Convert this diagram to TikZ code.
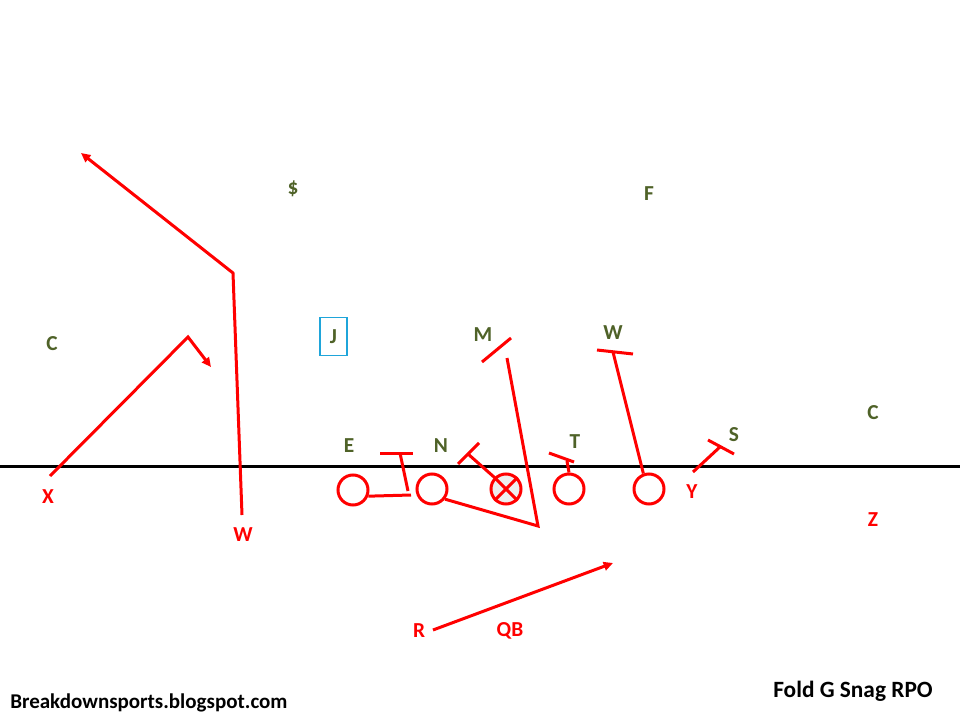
\documentclass[tikz,border=0pt]{standalone}
\usepackage{fontspec}
\setmainfont{Carlito}
\usetikzlibrary{arrows.meta}
\definecolor{rte}{HTML}{FF0000}
\definecolor{olv}{HTML}{4F6228}
\definecolor{cyb}{HTML}{1FA5DA}
\definecolor{cgray}{HTML}{EEEEEE}
\tikzset{
  lbl/.style={font=\fontsize{16}{18}\selectfont\bfseries, inner sep=0pt},
  deflbl/.style={lbl, text=olv},
  offlbl/.style={lbl, text=rte},
  lineman/.style={circle, draw=rte, line width=2.25pt, minimum size=22.5pt, inner sep=0pt},
  rt/.style={draw=rte, line width=2.25pt},
  rtarrow/.style={rt, -{Triangle[length=7pt,width=6.5pt]}},
}
\begin{document}
\begin{tikzpicture}[x=0.75pt,y=-0.75pt]
\useasboundingbox (0,0) rectangle (960,720);
\fill[white] (0,0) rectangle (960,720);
% line of scrimmage
\coordinate (losL) at (0,466);
\coordinate (losR) at (960,466);
\draw[line width=2.25pt] (losL) -- (losR);
% offensive line
\node[lineman] (c1) at (353,490) {};
\node[lineman] (c2) at (432,489) {};
\node[lineman, fill=cgray] (c3) at (506,489) {};
\node[lineman] (c4) at (569,489) {};
\node[lineman] (c5) at (649,489) {};
\draw[rt] (c3.45) -- (c3.225);
\draw[rt] (c3.135) -- (c3.-45);
% defender labels
\node[deflbl] (dE) at (349,446) {E};
\node[deflbl] (dN) at (441,446) {N};
\node[deflbl] (dT) at (575,442) {T};
\node[deflbl] (dW) at (613,333) {W};
\node[deflbl] (dS) at (734,435) {S};
\node[deflbl] (dM) at (483,335) {M};
\node[deflbl] (dD) at (293,189) {\$};
\node[deflbl] (dF) at (649,194) {F};
\node[deflbl] (dC1) at (52,344) {C};
\node[deflbl] (dC2) at (873,413) {C};
\node[deflbl, draw=cyb, line width=1.2pt, minimum width=20pt, minimum height=28.5pt] (dJ) at (333.5,336.5) {J};
% offensive labels
\node[offlbl] (oX) at (48,497) {X};
\node[offlbl] (oW) at (243,535) {W};
\node[offlbl] (oY) at (692,492) {Y};
\node[offlbl] (oZ) at (873,520) {Z};
\node[offlbl] (oR) at (419,631) {R};
\node[offlbl] (oQB) at (510,631) {QB};
% bottom texts
\node[lbl, font=\fontsize{15.75}{18}\selectfont\bfseries, anchor=west] (site) at (10,703) {Breakdownsports.blogspot.com};
\node[lbl, font=\fontsize{17.5}{20}\selectfont\bfseries, anchor=west] (title) at (773,691) {Fold G Snag RPO};
% X route
\coordinate (x0) at (50,476);
\coordinate (x1) at (188,337);
\coordinate (x2) at (211,367);
\draw[rtarrow, line join=miter] (x0) -- (x1) -- (x2);
% W route
\coordinate (w0) at (242,515);
\coordinate (w1) at (233,273);
\coordinate (w2) at (81,153);
\draw[rtarrow] (w0) -- (w1) -- (w2);
% first lineman block
\coordinate (e0) at (411,495);
\coordinate (e1) at (408,491);
\coordinate (e2) at (400,453);
\coordinate (eL) at (380,453);
\coordinate (eR) at (413,453);
\draw[rt] (c1.-22) -- (e0);
\draw[rt] (e1) -- (e2);
\draw[rt] (eL) -- (eR);
% second lineman pull
\coordinate (n1) at (538,526);
\coordinate (n2) at (507,358);
\draw[rt, line join=miter] (c2.-38) -- (n1) -- (n2);
\coordinate (mA) at (482,362);
\coordinate (mB) at (511,338);
\draw[rt] (mA) -- (mB);
% center block
\coordinate (cb) at (468,454);
\coordinate (cbL) at (458,464);
\coordinate (cbR) at (479,443);
\draw[rt] (c3.135) -- (cb);
\draw[rt] (cbL) -- (cbR);
% guard block
\coordinate (g0) at (567,461);
\coordinate (gL) at (549,453);
\coordinate (gR) at (574,462);
\draw[rt] (c4.north) -- (g0);
\draw[rt] (gL) -- (gR);
% tackle block
\coordinate (t0) at (613,352);
\coordinate (tL) at (597,350);
\coordinate (tR) at (633,354);
\draw[rt] (c5.110) -- (t0);
\draw[rt] (tL) -- (tR);
% Y block
\coordinate (y0) at (693,472);
\coordinate (y1) at (721,446);
\coordinate (yL) at (708,440);
\coordinate (yR) at (734,454);
\draw[rt] (y0) -- (y1);
\draw[rt] (yL) -- (yR);
% R path
\coordinate (r0) at (433,630);
\coordinate (r1) at (613,563);
\draw[rtarrow] (r0) -- (r1);
\end{tikzpicture}
\end{document}
